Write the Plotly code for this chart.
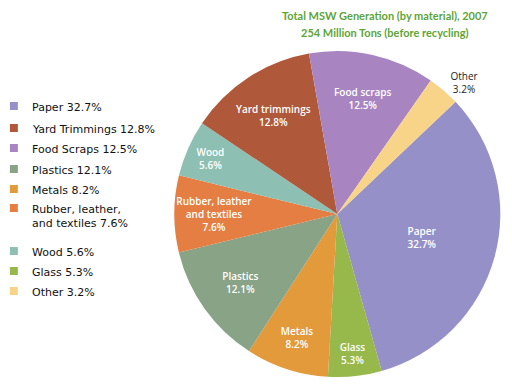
import plotly.graph_objects as go

# Slice data (clockwise from Paper)
materials = ["Paper", "Glass", "Metals", "Plastics", "Rubber, leather and textiles",
             "Wood", "Yard trimmings", "Food scraps", "Other"]
shares = [32.7, 5.3, 8.2, 12.1, 7.6, 5.6, 12.8, 12.5, 3.2]
slice_text = ["Paper<br>32.7%", "Glass<br>5.3%", "Metals<br>8.2%", "Plastics<br>12.1%",
              "Rubber, leather<br>and textiles<br>7.6%", "Wood<br>5.6%",
              "Yard trimmings<br>12.8%", "Food scraps<br>12.5%", "Other<br>3.2%"]
colors = ["#9591C8", "#97B84A", "#E39A3A", "#88A386", "#E47E42",
          "#8DBFB3", "#B0583A", "#A884C1", "#F8D488"]

# Legend data (display order)
legend_labels = ["Paper 32.7%", "Yard Trimmings 12.8%", "Food Scraps 12.5%",
                 "Plastics 12.1%", "Metals 8.2%", "Rubber, leather,<br>and textiles 7.6%",
                 "Wood 5.6%", "Glass 5.3%", "Other 3.2%"]
legend_colors = ["#9591C8", "#B0583A", "#A884C1", "#88A386", "#E39A3A",
                 "#E47E42", "#8DBFB3", "#97B84A", "#F8D488"]
legend_rows_px = [106, 128, 148, 169, 189, 208, 251, 271, 291]

title_lines = ["Total MSW Generation (by material), 2007", "254 Million Tons (before recycling)"]
title_rows_px = [15, 32]

W, H = 512, 384

fig = go.Figure()
fig.add_trace(go.Pie(
    labels=materials, values=shares, text=slice_text,
    textinfo="text", sort=False, direction="clockwise", rotation=46.5,
    marker=dict(colors=colors, line=dict(width=0)),
    textposition=["inside"] * 8 + ["outside"],
    insidetextorientation="horizontal",
    insidetextfont=dict(color="white", family="Open Sans", size=10, weight=600),
    outsidetextfont=dict(color="#222222", family="Open Sans", size=10),
    showlegend=False, hoverinfo="label+percent",
    domain=dict(x=[0.336, 0.992], y=[0.018, 0.867]),
))

shapes = []
annotations = []
for lab, col, ypx in zip(legend_labels, legend_colors, legend_rows_px):
    shapes.append(dict(type="rect", xref="paper", yref="paper",
                       x0=10 / W, x1=18 / W, y0=1 - (ypx + 4) / H, y1=1 - (ypx - 4) / H,
                       fillcolor=col, line=dict(width=0)))
    annotations.append(dict(text=lab, xref="paper", yref="paper",
                            x=30 / W, y=1 - (ypx - 7) / H, xanchor="left", yanchor="top",
                            align="left", showarrow=False,
                            font=dict(family="DejaVu Sans", size=11, color="#111111")))

for line, ypx in zip(title_lines, title_rows_px):
    annotations.append(dict(text=line, xref="paper", yref="paper", x=388 / W, y=1 - ypx / H,
                            xanchor="center", yanchor="middle", showarrow=False,
                            font=dict(family="Lato", size=11, weight=700, color="#5DA537")))

fig.update_layout(
    width=W, height=H, margin=dict(l=0, r=0, t=0, b=0),
    paper_bgcolor="white", plot_bgcolor="white",
    shapes=shapes, annotations=annotations,
    uniformtext=dict(minsize=10, mode="show"),
)

fig.write_html("out.html", config={"displayModeBar": False},
               post_script="document.body.style.margin='0';")
